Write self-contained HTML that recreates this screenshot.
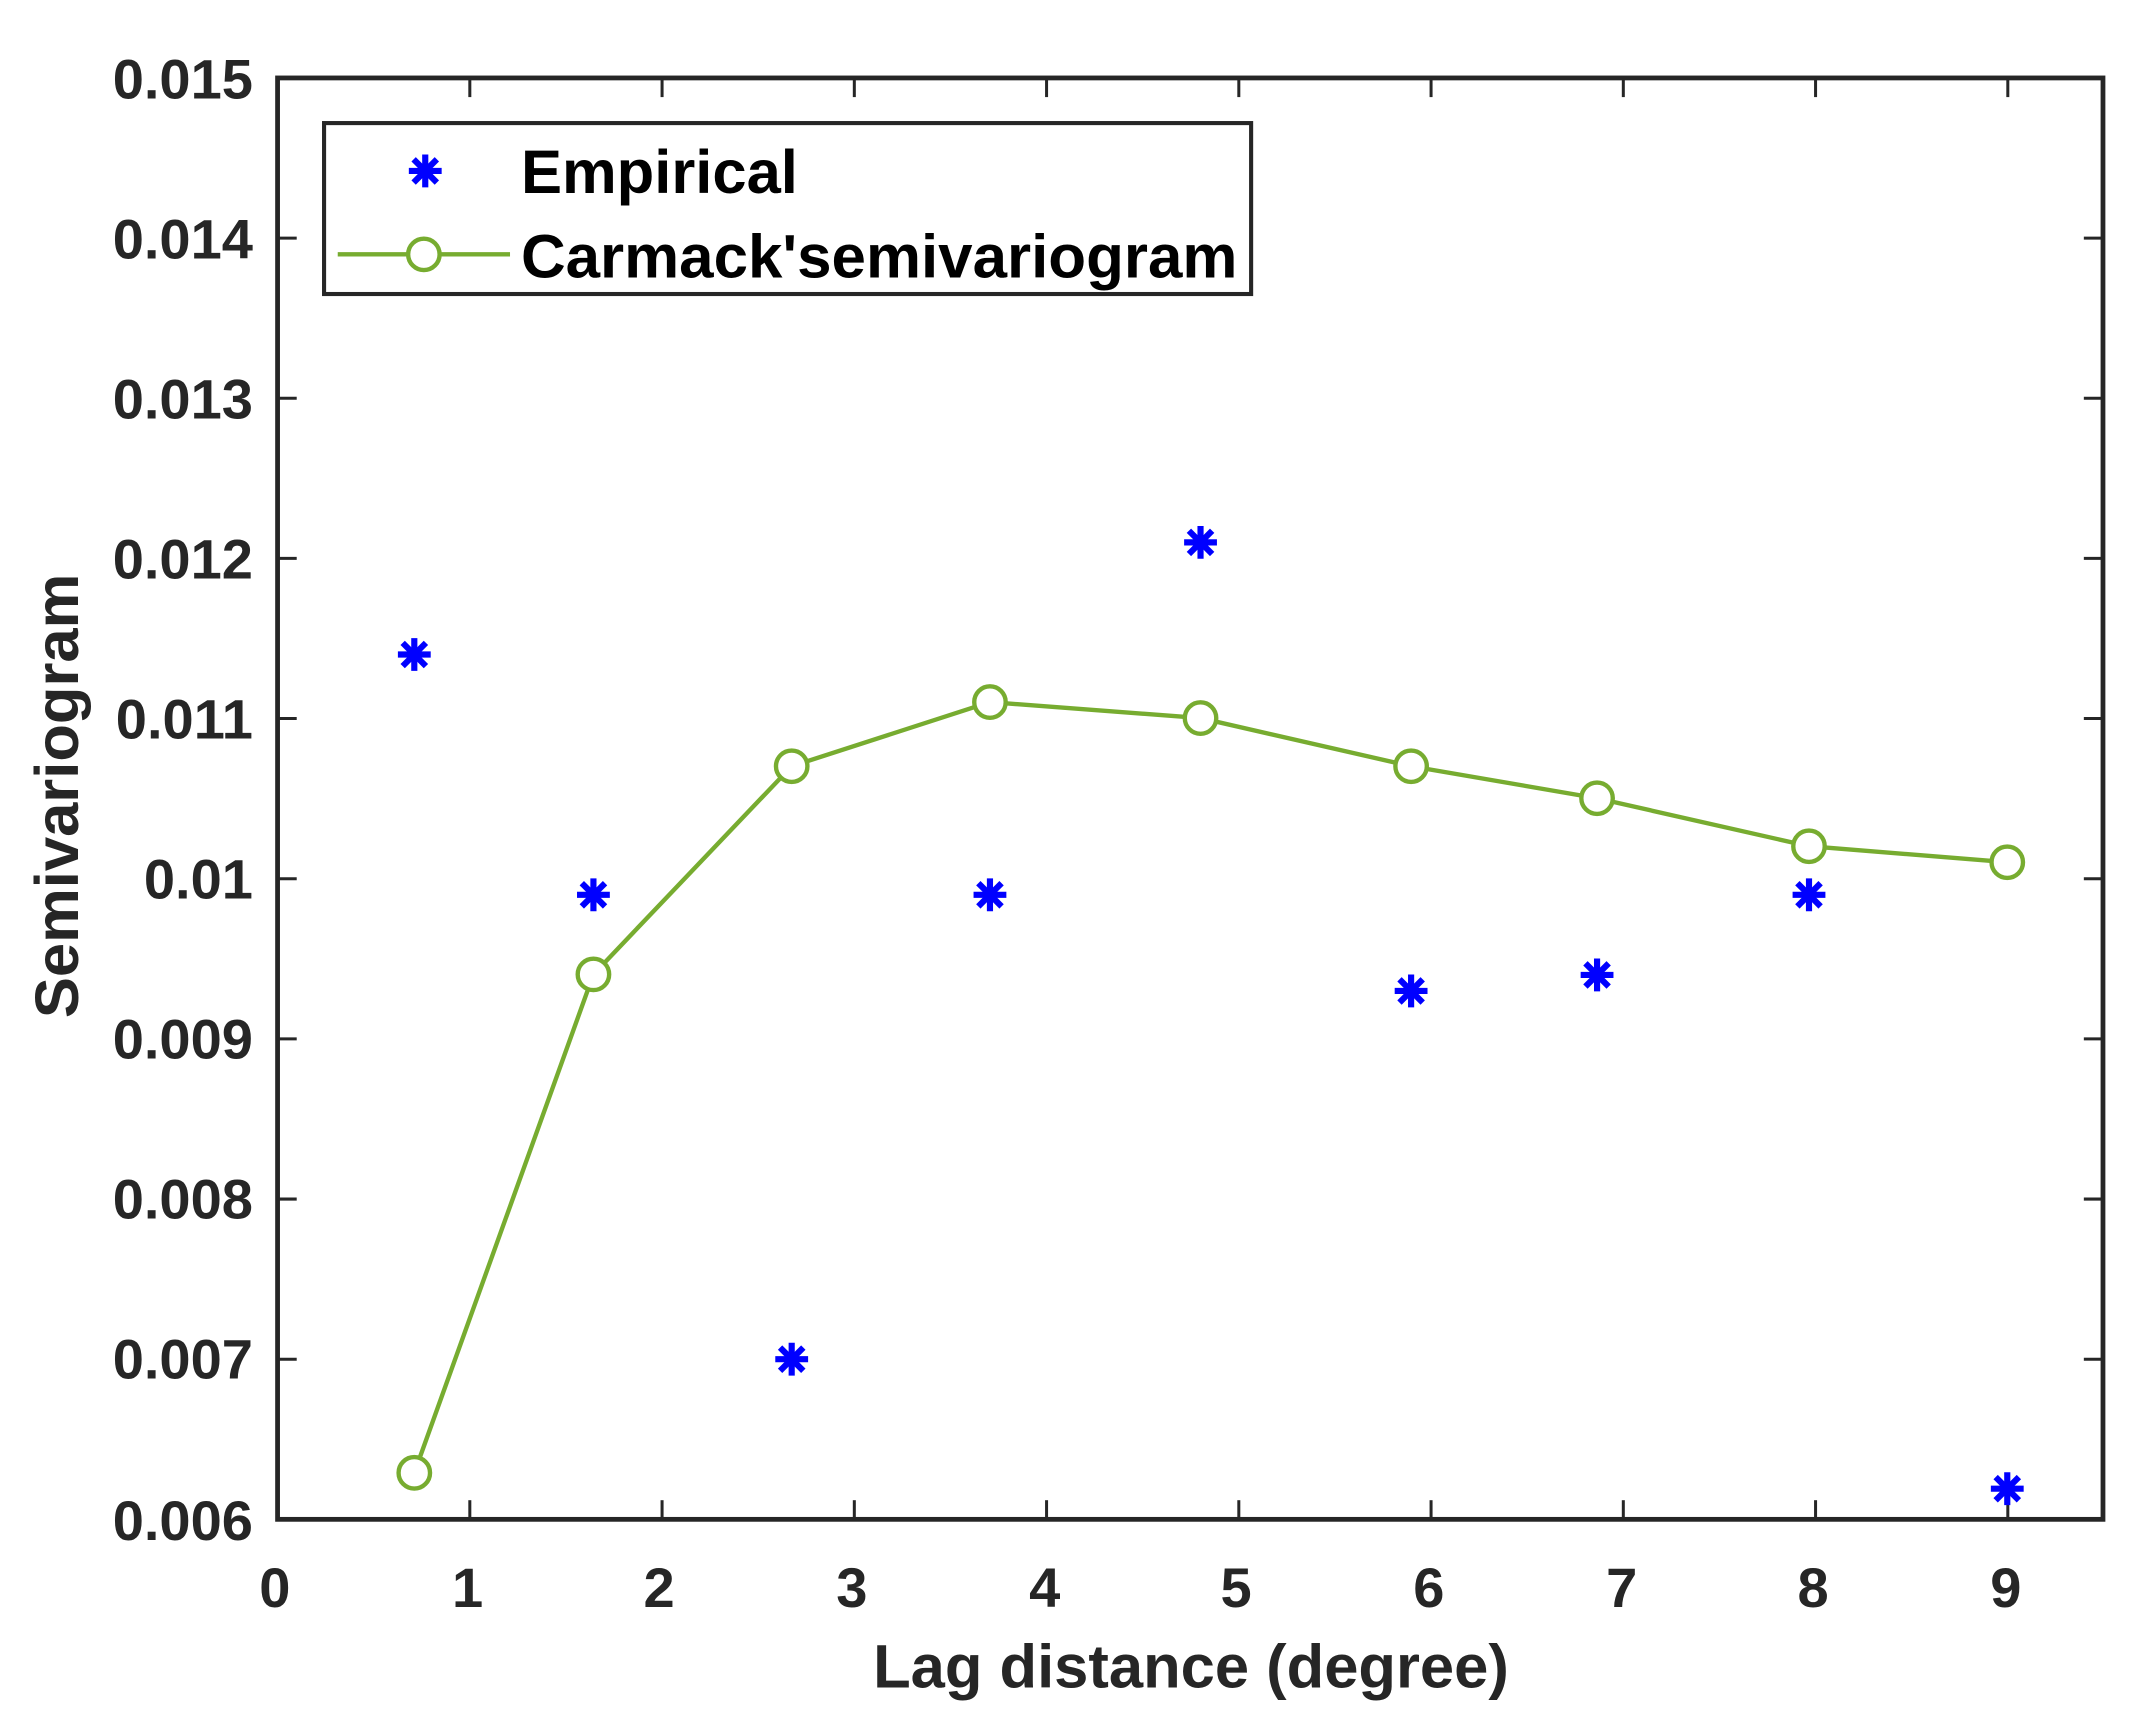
<!DOCTYPE html>
<html><head><meta charset="utf-8"><style>html,body{margin:0;padding:0;background:#fff}svg{display:block}</style></head>
<body>
<svg width="2144" height="1719" viewBox="0 0 1568 1257" preserveAspectRatio="none" xmlns="http://www.w3.org/2000/svg" font-family="Liberation Sans, Arial, sans-serif" font-weight="bold" fill="#262626">
<defs>
<g id="ast" stroke="#0000ff" stroke-width="4.5">
<line x1="-12" y1="0" x2="12" y2="0"/><line x1="0" y1="-12" x2="0" y2="12"/>
<line x1="-8.5" y1="-8.5" x2="8.5" y2="8.5"/><line x1="-8.5" y1="8.5" x2="8.5" y2="-8.5"/>
</g>
</defs>
<rect x="203" y="57" width="1335" height="1054" fill="#fff" stroke="#262626" stroke-width="3.5"/>
<g stroke="#262626" stroke-width="2.2">
<line x1="343.6" y1="1111" x2="343.6" y2="1097"/><line x1="343.6" y1="57" x2="343.6" y2="71"/>
<line x1="484.2" y1="1111" x2="484.2" y2="1097"/><line x1="484.2" y1="57" x2="484.2" y2="71"/>
<line x1="624.8" y1="1111" x2="624.8" y2="1097"/><line x1="624.8" y1="57" x2="624.8" y2="71"/>
<line x1="765.4" y1="1111" x2="765.4" y2="1097"/><line x1="765.4" y1="57" x2="765.4" y2="71"/>
<line x1="906" y1="1111" x2="906" y2="1097"/><line x1="906" y1="57" x2="906" y2="71"/>
<line x1="1046.6" y1="1111" x2="1046.6" y2="1097"/><line x1="1046.6" y1="57" x2="1046.6" y2="71"/>
<line x1="1187.2" y1="1111" x2="1187.2" y2="1097"/><line x1="1187.2" y1="57" x2="1187.2" y2="71"/>
<line x1="1327.8" y1="1111" x2="1327.8" y2="1097"/><line x1="1327.8" y1="57" x2="1327.8" y2="71"/>
<line x1="1468.4" y1="1111" x2="1468.4" y2="1097"/><line x1="1468.4" y1="57" x2="1468.4" y2="71"/>
<line x1="203" y1="174.1" x2="217" y2="174.1"/><line x1="1538" y1="174.1" x2="1524" y2="174.1"/>
<line x1="203" y1="291.2" x2="217" y2="291.2"/><line x1="1538" y1="291.2" x2="1524" y2="291.2"/>
<line x1="203" y1="408.3" x2="217" y2="408.3"/><line x1="1538" y1="408.3" x2="1524" y2="408.3"/>
<line x1="203" y1="525.4" x2="217" y2="525.4"/><line x1="1538" y1="525.4" x2="1524" y2="525.4"/>
<line x1="203" y1="642.6" x2="217" y2="642.6"/><line x1="1538" y1="642.6" x2="1524" y2="642.6"/>
<line x1="203" y1="759.7" x2="217" y2="759.7"/><line x1="1538" y1="759.7" x2="1524" y2="759.7"/>
<line x1="203" y1="876.8" x2="217" y2="876.8"/><line x1="1538" y1="876.8" x2="1524" y2="876.8"/>
<line x1="203" y1="993.9" x2="217" y2="993.9"/><line x1="1538" y1="993.9" x2="1524" y2="993.9"/>
</g>
<g font-size="41" text-anchor="end">
<text x="185" y="72">0.015</text><text x="185" y="189">0.014</text><text x="185" y="306">0.013</text>
<text x="185" y="423">0.012</text><text x="185" y="540">0.011</text><text x="185" y="657">0.01</text>
<text x="185" y="774">0.009</text><text x="185" y="891">0.008</text><text x="185" y="1008">0.007</text>
<text x="185" y="1126">0.006</text>
</g>
<g font-size="41" text-anchor="middle">
<text x="201" y="1175">0</text><text x="342" y="1175">1</text><text x="482" y="1175">2</text>
<text x="623" y="1175">3</text><text x="764" y="1175">4</text><text x="904" y="1175">5</text>
<text x="1045" y="1175">6</text><text x="1186" y="1175">7</text><text x="1326" y="1175">8</text>
<text x="1467" y="1175">9</text>
</g>
<text x="871" y="1234" font-size="45" text-anchor="middle">Lag distance (degree)</text>
<text transform="translate(57,582) rotate(-90)" font-size="45" text-anchor="middle">Semivariogram</text>
<polyline fill="none" stroke="#77ac30" stroke-width="3.2" points="303,1077 434,712.5 579,560.3 724,513.4 878,525.1 1032,560.3 1168,583.7 1323,618.8 1468,630.5"/>
<g fill="#fff" stroke="#77ac30" stroke-width="3.2">
<circle cx="303" cy="1077" r="11.5"/><circle cx="434" cy="712.5" r="11.5"/><circle cx="579" cy="560.3" r="11.5"/>
<circle cx="724" cy="513.4" r="11.5"/><circle cx="878" cy="525.1" r="11.5"/><circle cx="1032" cy="560.3" r="11.5"/>
<circle cx="1168" cy="583.7" r="11.5"/><circle cx="1323" cy="618.8" r="11.5"/><circle cx="1468" cy="630.5" r="11.5"/>
</g>
<use href="#ast" x="303" y="478.6"/><use href="#ast" x="434" y="654.3"/><use href="#ast" x="579" y="993.9"/>
<use href="#ast" x="724" y="654.3"/><use href="#ast" x="878" y="396.6"/><use href="#ast" x="1032" y="724.6"/>
<use href="#ast" x="1168" y="712.9"/><use href="#ast" x="1323" y="654.3"/><use href="#ast" x="1468" y="1088.6"/>
<rect x="237" y="90" width="678" height="125" fill="#fff" stroke="#262626" stroke-width="3"/>
<use href="#ast" x="311" y="125"/>
<line x1="247" y1="186" x2="373" y2="186" stroke="#77ac30" stroke-width="3.2"/>
<circle cx="310" cy="186" r="11.5" fill="#fff" stroke="#77ac30" stroke-width="3.2"/>
<g font-size="45" fill="#000">
<text x="381" y="141">Empirical</text>
<text x="381" y="203" textLength="524" lengthAdjust="spacingAndGlyphs">Carmack'semivariogram</text>
</g>
</svg>
</body></html>
